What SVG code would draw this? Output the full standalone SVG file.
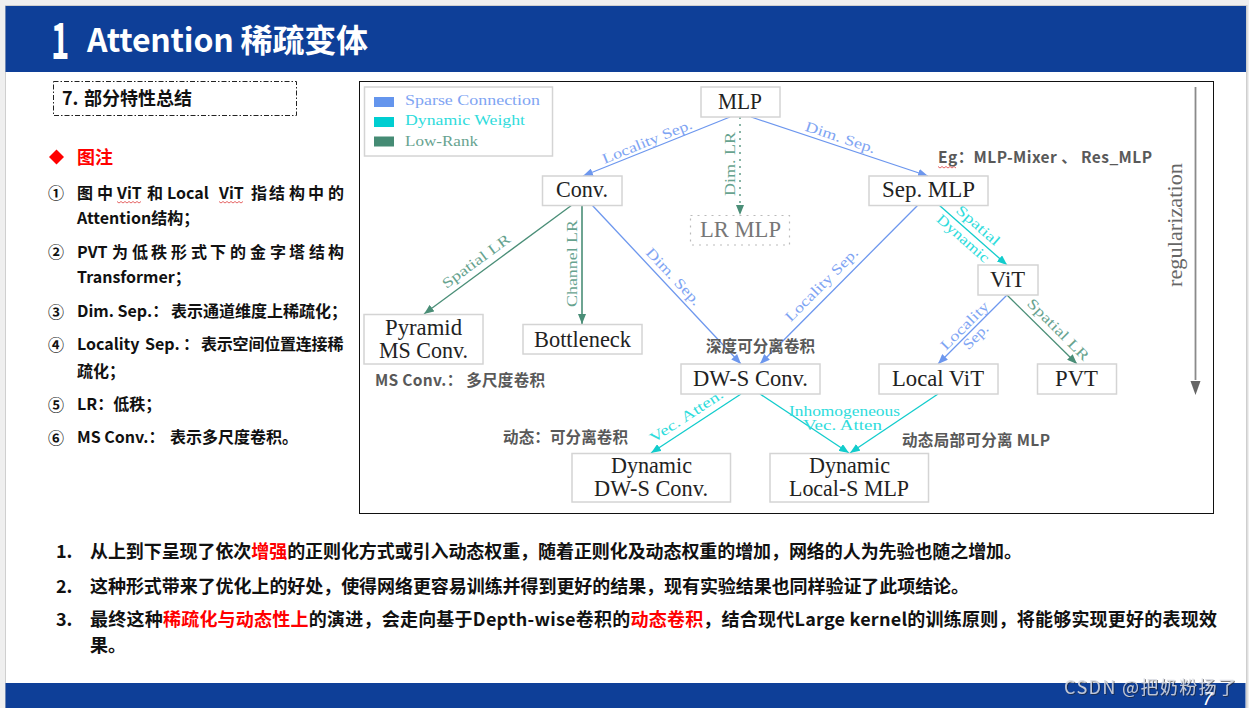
<svg xmlns="http://www.w3.org/2000/svg" width="1249" height="708" viewBox="0 0 1249 708">
<style>
text{font-family:"Noto Sans CJK SC","Liberation Sans",sans-serif;font-weight:700;fill:#111}
.n{font-family:"Liberation Serif",serif;font-weight:400;font-size:23px;fill:#222;text-anchor:middle}
.l{font-family:"Liberation Serif",serif;font-weight:400;font-size:14.5px;text-anchor:middle}
.box{fill:#fff;stroke:#d4d4d4;stroke-width:1.5}
.b{fill:#7fa5f3}.c{fill:#2fdcdc}.g{fill:#67a38f}
.e{fill:none;stroke-width:1.3}
.eb{stroke:#6d97ee}.ec{stroke:#12cccc}.eg{stroke:#4a8e77}
.t{font-size:16px}
.a{font-size:15.5px;fill:#595959}
.m{font-size:18px}
.r{fill:#ff0000}
.sq{fill:none;stroke:#e04040;stroke-width:.8}
</style>
<defs>
<marker id="mb" markerUnits="userSpaceOnUse" markerWidth="11" markerHeight="8" refX="10" refY="4" orient="auto"><path d="M0 0L10 4L0 8z" fill="#6d97ee"/></marker>
<marker id="mc" markerUnits="userSpaceOnUse" markerWidth="11" markerHeight="8" refX="10" refY="4" orient="auto"><path d="M0 0L10 4L0 8z" fill="#12cccc"/></marker>
<marker id="mg" markerUnits="userSpaceOnUse" markerWidth="11" markerHeight="8" refX="10" refY="4" orient="auto"><path d="M0 0L10 4L0 8z" fill="#4a8e77"/></marker>
<filter id="sh" x="-5%" y="-20%" width="110%" height="140%"><feDropShadow dx="1" dy="1" stdDeviation=".6" flood-color="#222" flood-opacity=".7"/></filter>
</defs>
<rect width="1249" height="708" fill="#efefef"/>
<rect x="5" y="5" width="1242.500" height="703" fill="#cfcfcf"/>
<rect x="6" y="6" width="1240" height="702" fill="#fff"/>
<rect x="5.500" y="6" width="1240.500" height="66" fill="#0e3f98"/>
<rect x="5.500" y="683" width="1240" height="25" fill="#0e3f98"/>
<text x="51" y="59" font-size="50" style="fill:#fff" transform="translate(51 0) scale(.62 1) translate(-51 0)">1</text>
<text x="87" y="52" font-size="32" style="fill:#fff" textLength="281">Attention 稀疏变体</text>

<g id="heading">
<rect x="53.500" y="81.500" width="243" height="34" fill="none" stroke="#222" stroke-width="1" stroke-dasharray="5 2 1.500 2"/>
<text y="105" font-size="18"><tspan x="62">7.</tspan><tspan x="84">部分特性总结</tspan></text>
</g>
<g id="legend-notes">
<path class="r" d="M56.500 149.500L64 157L56.500 164.500L49 157z"/>
<text x="77" y="164" font-size="18" style="fill:#f00">图注</text>
<text x="48" y="199" class="t">①</text>
<text y="198.500" class="t"><tspan x="77">图</tspan><tspan x="97">中</tspan><tspan x="117">ViT</tspan><tspan x="147">和</tspan><tspan x="167">Local</tspan><tspan x="219">ViT</tspan><tspan x="251">指</tspan><tspan x="269">结</tspan><tspan x="289">构</tspan><tspan x="308">中</tspan><tspan x="328">的</tspan></text>
<path class="sq" d="M117 201.500l2 1.500l2-1.500l2 1.500l2-1.500l2 1.500l2-1.500l2 1.500l2-1.500l2 1.500l2-1.500l2 1.500l2-1.500M219 201.500l2 1.500l2-1.500l2 1.500l2-1.500l2 1.500l2-1.500l2 1.500l2-1.500l2 1.500l2-1.500l2 1.500l2-1.500"/>
<text x="77" y="224" class="t">Attention结构；</text>
<text x="48" y="258" class="t">②</text>
<text y="257.500" class="t"><tspan x="77">PVT</tspan><tspan x="112">为</tspan><tspan x="132">低</tspan><tspan x="151">秩</tspan><tspan x="171">形</tspan><tspan x="191">式</tspan><tspan x="210">下</tspan><tspan x="230">的</tspan><tspan x="250">金</tspan><tspan x="270">字</tspan><tspan x="289">塔</tspan><tspan x="309">结</tspan><tspan x="328">构</tspan></text>
<text x="77" y="283" class="t">Transformer；</text>
<text x="48" y="318" class="t">③</text>
<text y="317" class="t"><tspan x="77">Dim. Sep.：</tspan><tspan x="171">表示通道维度上稀疏化；</tspan></text>
<text x="48" y="351" class="t">④</text>
<text y="350" class="t"><tspan x="77">Locality</tspan><tspan x="145">Sep.</tspan><tspan x="183">：</tspan><tspan x="201" letter-spacing="-.2">表示空间位置连接稀</tspan></text>
<text x="77" y="377" class="t">疏化；</text>
<text x="48" y="411" class="t">⑤</text>
<text x="77" y="410" class="t">LR：低秩；</text>
<text x="48" y="444" class="t">⑥</text>
<text y="443" class="t"><tspan x="77">MS Conv.：</tspan><tspan x="170">表示多尺度卷积。</tspan></text>
</g>

<rect x="359.500" y="81.500" width="854" height="432" fill="#fff" stroke="#111" stroke-width="1"/>

<g id="key">
<rect class="box" x="364.500" y="87" width="188" height="69"/>
<rect x="374" y="97" width="20" height="10" fill="#6495ed"/>
<rect x="374" y="117" width="20" height="10" fill="#00ced1"/>
<rect x="374" y="136.500" width="20" height="10" fill="#458b74"/>
<text x="405" y="105" class="l" style="text-anchor:start;fill:#7fa5f3" textLength="135" lengthAdjust="spacingAndGlyphs">Sparse Connection</text>
<text x="405" y="125" class="l" style="text-anchor:start;fill:#2fdcdc" textLength="120" lengthAdjust="spacingAndGlyphs">Dynamic Weight</text>
<text x="405" y="146" class="l" style="text-anchor:start;fill:#67a38f" textLength="73" lengthAdjust="spacingAndGlyphs">Low-Rank</text>
</g>

<g id="connectors">
<line class="e eb" x1="730" y1="117" x2="583" y2="176" marker-end="url(#mb)"/>
<line class="e eb" x1="751" y1="117" x2="928" y2="176" marker-end="url(#mb)"/>
<line class="e eg" x1="740" y1="117" x2="740" y2="215" stroke-dasharray="2 5" marker-end="url(#mg)"/>
<line class="e eg" x1="572" y1="205" x2="424" y2="314" marker-end="url(#mg)"/>
<line class="e eg" x1="582" y1="205" x2="582" y2="324" marker-end="url(#mg)" style="stroke-width:1.600"/>
<line class="e eb" x1="592" y1="205" x2="741" y2="364" marker-end="url(#mb)"/>
<line class="e eb" x1="918" y1="205" x2="760" y2="364" marker-end="url(#mb)"/>
<line class="e ec" x1="939" y1="205" x2="1007" y2="265" marker-end="url(#mc)"/>
<line class="e eb" x1="1007" y1="295" x2="938" y2="364" marker-end="url(#mb)"/>
<line class="e eg" x1="1007" y1="295" x2="1077" y2="364" marker-end="url(#mg)"/>
<line class="e ec" x1="741" y1="394" x2="651" y2="453" marker-end="url(#mc)"/>
<line class="e ec" x1="760" y1="394" x2="849" y2="453" marker-end="url(#mc)"/>
<line class="e ec" x1="938" y1="394" x2="850" y2="453" marker-end="url(#mc)"/>
<line x1="1195.500" y1="87" x2="1195.500" y2="380" stroke="#8a8a8a" stroke-width="1.800"/>
<path d="M1190.500 381H1200.500L1195.500 395z" fill="#666"/>
</g>

<g id="edge-labels">
<text class="l" style="fill:#7fa5f3" transform="translate(649 146) rotate(-21.900)" textLength="96" lengthAdjust="spacingAndGlyphs">Locality Sep.</text>
<text class="l" style="fill:#7fa5f3" transform="translate(839 142) rotate(18.400)" textLength="73" lengthAdjust="spacingAndGlyphs">Dim. Sep.</text>
<text class="l" style="fill:#67a38f" transform="translate(735 164) rotate(-90)" textLength="64" lengthAdjust="spacingAndGlyphs">Dim. LR</text>
<text class="l" style="fill:#67a38f" transform="translate(479 265) rotate(-36.400)" textLength="81" lengthAdjust="spacingAndGlyphs">Spatial LR</text>
<text class="l" style="fill:#67a38f" transform="translate(577 263.500) rotate(-90)" textLength="87" lengthAdjust="spacingAndGlyphs">Channel LR</text>
<text class="l" style="fill:#7fa5f3" transform="translate(670 280) rotate(46.900)" textLength="73" lengthAdjust="spacingAndGlyphs">Dim. Sep.</text>
<text class="l" style="fill:#7fa5f3" transform="translate(825 288) rotate(-45.200)" textLength="97" lengthAdjust="spacingAndGlyphs">Locality Sep.</text>
<text class="l" style="fill:#2fdcdc" transform="translate(975 229) rotate(41.400)" textLength="53" lengthAdjust="spacingAndGlyphs">Spatial</text>
<text class="l" style="fill:#2fdcdc" transform="translate(960 242) rotate(41.400)" textLength="65" lengthAdjust="spacingAndGlyphs">Dynamic</text>
<text class="l" style="fill:#7fa5f3" transform="translate(968 329) rotate(-45)" textLength="62" lengthAdjust="spacingAndGlyphs">Locality</text>
<text class="l" style="fill:#7fa5f3" transform="translate(979 340) rotate(-45)" textLength="30" lengthAdjust="spacingAndGlyphs">Sep.</text>
<text class="l" style="fill:#67a38f" transform="translate(1055 333) rotate(45)" textLength="81" lengthAdjust="spacingAndGlyphs">Spatial LR</text>
<text class="l" style="fill:#2fdcdc" transform="translate(689 420) rotate(-33.200)" textLength="85" lengthAdjust="spacingAndGlyphs">Vec. Atten.</text>
<text class="l" style="fill:#2fdcdc" x="844.500" y="416" textLength="111" lengthAdjust="spacingAndGlyphs">Inhomogeneous</text>
<text class="l" style="fill:#2fdcdc" x="842.500" y="430" textLength="79" lengthAdjust="spacingAndGlyphs">Vec. Atten</text>
</g>

<g id="node-mlp"><rect class="box" x="701" y="87" width="79" height="30"/><text class="n" x="740" y="108.500" textLength="44" lengthAdjust="spacingAndGlyphs">MLP</text></g>
<g id="node-conv"><rect class="box" x="542.500" y="176" width="79.500" height="29.500"/><text class="n" x="582" y="197" textLength="52" lengthAdjust="spacingAndGlyphs">Conv.</text></g>
<g id="node-lr-mlp"><rect x="690.500" y="215.500" width="99" height="29.500" fill="#fff" stroke="#bbb" stroke-width="1.200" stroke-dasharray="2 5"/><text class="n" style="fill:#777" x="740.500" y="237" textLength="81" lengthAdjust="spacingAndGlyphs">LR MLP</text></g>
<g id="node-sep-mlp"><rect class="box" x="869" y="176" width="119" height="29.500"/><text class="n" x="928.500" y="196.500" textLength="93" lengthAdjust="spacingAndGlyphs">Sep. MLP</text></g>
<g id="node-vit"><rect class="box" x="978" y="265" width="60" height="30"/><text class="n" x="1007.500" y="287" textLength="35" lengthAdjust="spacingAndGlyphs">ViT</text></g>
<g id="node-pyramid"><rect class="box" x="364" y="314.500" width="119" height="49.500"/><text class="n" x="423.500" y="335" textLength="77" lengthAdjust="spacingAndGlyphs">Pyramid</text><text class="n" x="423.500" y="358" textLength="89" lengthAdjust="spacingAndGlyphs">MS Conv.</text></g>
<g id="node-bottleneck"><rect class="box" x="523" y="324.500" width="119" height="29.500"/><text class="n" x="582.500" y="347" textLength="97" lengthAdjust="spacingAndGlyphs">Bottleneck</text></g>
<g id="node-dws"><rect class="box" x="681" y="364" width="139" height="30"/><text class="n" x="750.500" y="386" textLength="115" lengthAdjust="spacingAndGlyphs">DW-S Conv.</text></g>
<g id="node-local-vit"><rect class="box" x="879" y="364" width="119" height="30"/><text class="n" x="938" y="386" textLength="92" lengthAdjust="spacingAndGlyphs">Local ViT</text></g>
<g id="node-pvt"><rect class="box" x="1037.500" y="364" width="79" height="30"/><text class="n" x="1076.500" y="386" textLength="43" lengthAdjust="spacingAndGlyphs">PVT</text></g>
<g id="node-dyn-dws"><rect class="box" x="572" y="453.500" width="158.500" height="48.500"/><text class="n" x="651.500" y="473" textLength="81" lengthAdjust="spacingAndGlyphs">Dynamic</text><text class="n" x="651" y="496" textLength="114" lengthAdjust="spacingAndGlyphs">DW-S Conv.</text></g>
<g id="node-dyn-local"><rect class="box" x="770" y="453.500" width="158.500" height="48.500"/><text class="n" x="849.500" y="473" textLength="81" lengthAdjust="spacingAndGlyphs">Dynamic</text><text class="n" x="849" y="496" textLength="120" lengthAdjust="spacingAndGlyphs">Local-S MLP</text></g>

<text transform="translate(1182 225) rotate(-90)" style="font-family:'Liberation Serif',serif;font-weight:400;fill:#666;text-anchor:middle" font-size="21" textLength="124" lengthAdjust="spacingAndGlyphs">regularization</text>

<g id="annotations">
<text class="a" x="938" y="163" textLength="214">Eg：MLP-Mixer 、 Res_MLP</text>
<path class="sq" d="M938 166.500l2 1.500l2-1.500l2 1.500l2-1.500l2 1.500l2-1.500l2 1.500l2-1.500l2 1.500"/>
<text class="a" x="706" y="352" textLength="109">深度可分离卷积</text>
<text class="a" x="375" y="386" textLength="170">MS Conv.： 多尺度卷积</text>
<text class="a" x="503" y="443" textLength="125">动态：可分离卷积</text>
<text class="a" x="902" y="446" textLength="148">动态局部可分离 MLP</text>
</g>

<g id="conclusions">
<text x="56" y="558" class="m">1.</text>
<text x="90" y="558" class="m" textLength="932">从上到下呈现了依次<tspan style="fill:#f00">增强</tspan>的正则化方式或引入动态权重，随着正则化及动态权重的增加，网络的人为先验也随之增加。</text>
<text x="56" y="592.500" class="m">2.</text>
<text x="90" y="592.500" class="m" textLength="879">这种形式带来了优化上的好处，使得网络更容易训练并得到更好的结果，现有实验结果也同样验证了此项结论。</text>
<text x="56" y="626" class="m">3.</text>
<text x="90" y="626" class="m" textLength="1127">最终这种<tspan style="fill:#f00">稀疏化与动态性上</tspan>的演进，会走向基于Depth-wise卷积的<tspan style="fill:#f00">动态卷积</tspan>，结合现代Large  kernel的训练原则，将能够实现更好的表现效</text>
<text x="90" y="652" class="m">果。</text>
</g>

<text x="1064" y="694" font-size="18" filter="url(#sh)" style="font-weight:400;fill:#d8dbe2;fill-opacity:.85" textLength="172">CSDN @把奶粉扬了</text>
<text x="1201" y="705" font-size="18" style="font-weight:400;font-style:italic;fill:#fff">7</text>
</svg>
